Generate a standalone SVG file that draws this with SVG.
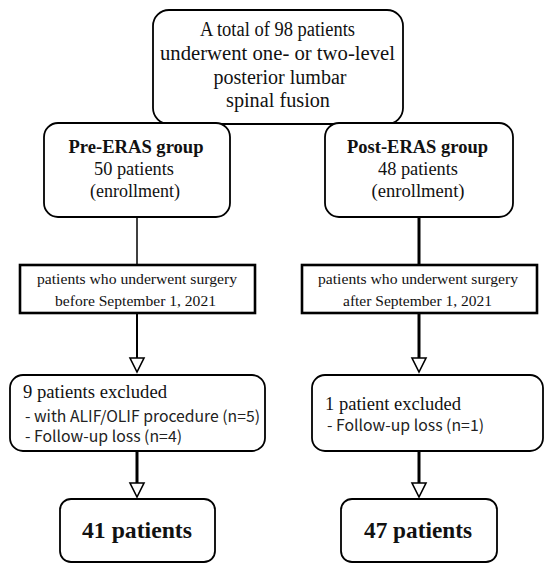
<svg xmlns="http://www.w3.org/2000/svg" width="550" height="576" viewBox="0 0 550 576">
<defs>
<style>
.box{fill:#fff;stroke:#000;stroke-width:1.8}
.fbox{fill:#fff;stroke:#000;stroke-width:2.6}
.serif{font-family:"Liberation Serif","Times New Roman",serif;fill:#111}
.sans{font-family:"Noto Sans CJK KR","DejaVu Sans",sans-serif;fill:#222}
.ln{stroke:#000;fill:none}
.head{fill:#fff;stroke:#000;stroke-width:1.6;stroke-linejoin:miter}
</style>
</defs>
<rect width="550" height="576" fill="#fff"/>
<g id="top">
<rect class="box" x="153" y="10" width="250" height="114" rx="16"/>
<g class="serif" font-size="20" text-anchor="middle" lengthAdjust="spacingAndGlyphs">
<text x="277.5" y="36" textLength="155" lengthAdjust="spacingAndGlyphs">A total of 98 patients</text>
<text x="277.5" y="60" textLength="235" lengthAdjust="spacingAndGlyphs">underwent one- or two-level</text>
<text x="280" y="84" textLength="133" lengthAdjust="spacingAndGlyphs">posterior lumbar</text>
<text x="278" y="107" textLength="104" lengthAdjust="spacingAndGlyphs">spinal fusion</text>
</g>
</g>
<g id="pre">
<rect class="box" x="44" y="123" width="186" height="94" rx="14"/>
<g class="serif" font-size="18" text-anchor="middle">
<text x="136" y="153" font-weight="bold" textLength="135" lengthAdjust="spacingAndGlyphs">Pre-ERAS group</text>
<text x="134" y="175" textLength="80" lengthAdjust="spacingAndGlyphs">50 patients</text>
<text x="135" y="197" textLength="90" lengthAdjust="spacingAndGlyphs">(enrollment)</text>
</g>
</g>
<g id="post">
<rect class="box" x="325" y="123" width="188" height="94" rx="14"/>
<g class="serif" font-size="18" text-anchor="middle">
<text x="417.5" y="153" font-weight="bold" textLength="141" lengthAdjust="spacingAndGlyphs">Post-ERAS group</text>
<text x="418" y="175" textLength="80" lengthAdjust="spacingAndGlyphs">48 patients</text>
<text x="418" y="197" textLength="93" lengthAdjust="spacingAndGlyphs">(enrollment)</text>
</g>
</g>
<g id="connectors">
<line class="ln" x1="137" y1="217" x2="137" y2="265" stroke-width="1.5"/>
<line class="ln" x1="137" y1="313" x2="137" y2="358" stroke-width="2"/>
<polygon class="head" points="130,358 144,358 137,372"/>
<line class="ln" x1="137" y1="451" x2="137" y2="483" stroke-width="3"/>
<polygon class="head" points="130,483 144,483 137,497"/>
<line class="ln" x1="419" y1="217" x2="419" y2="265" stroke-width="3"/>
<line class="ln" x1="419" y1="313" x2="419" y2="358" stroke-width="3"/>
<polygon class="head" points="412,358 426,358 419,372"/>
<line class="ln" x1="419" y1="451" x2="419" y2="483" stroke-width="3"/>
<polygon class="head" points="412,483 426,483 419,497"/>
</g>
<g id="filter-pre">
<rect class="fbox" x="20" y="265" width="235" height="48"/>
<g class="serif" font-size="15.5" text-anchor="middle">
<text x="137" y="284" textLength="200" lengthAdjust="spacingAndGlyphs">patients who underwent surgery</text>
<text x="135.5" y="306" textLength="161" lengthAdjust="spacingAndGlyphs">before September 1, 2021</text>
</g>
</g>
<g id="filter-post">
<rect class="fbox" x="302" y="265" width="235" height="48"/>
<g class="serif" font-size="15.5" text-anchor="middle">
<text x="418" y="284" textLength="200" lengthAdjust="spacingAndGlyphs">patients who underwent surgery</text>
<text x="417.5" y="306" textLength="149" lengthAdjust="spacingAndGlyphs">after September 1, 2021</text>
</g>
</g>
<g id="excl-pre">
<rect class="box" x="10" y="375" width="255" height="76" rx="13"/>
<text class="serif" x="23" y="398" font-size="18.5" textLength="144" lengthAdjust="spacingAndGlyphs">9 patients excluded</text>
<text class="sans" x="25" y="422" font-size="15.5" textLength="235" lengthAdjust="spacingAndGlyphs">- with ALIF/OLIF procedure (n=5)</text>
<text class="sans" x="25" y="442" font-size="15.5" textLength="157" lengthAdjust="spacingAndGlyphs">- Follow-up loss (n=4)</text>
</g>
<g id="excl-post">
<rect class="box" x="312" y="375" width="231" height="76" rx="13"/>
<text class="serif" x="325" y="410" font-size="18.5" textLength="136" lengthAdjust="spacingAndGlyphs">1 patient excluded</text>
<text class="sans" x="327" y="431" font-size="15.5" textLength="157" lengthAdjust="spacingAndGlyphs">- Follow-up loss (n=1)</text>
</g>
<g id="final-pre">
<rect class="box" x="60" y="499" width="155" height="63" rx="11"/>
<text class="serif" x="137" y="538" font-size="24" font-weight="bold" text-anchor="middle" textLength="110" lengthAdjust="spacingAndGlyphs">41 patients</text>
</g>
<g id="final-post">
<rect class="box" x="341" y="499" width="156" height="63" rx="11"/>
<text class="serif" x="418" y="538" font-size="24" font-weight="bold" text-anchor="middle" textLength="108" lengthAdjust="spacingAndGlyphs">47 patients</text>
</g>
</svg>
